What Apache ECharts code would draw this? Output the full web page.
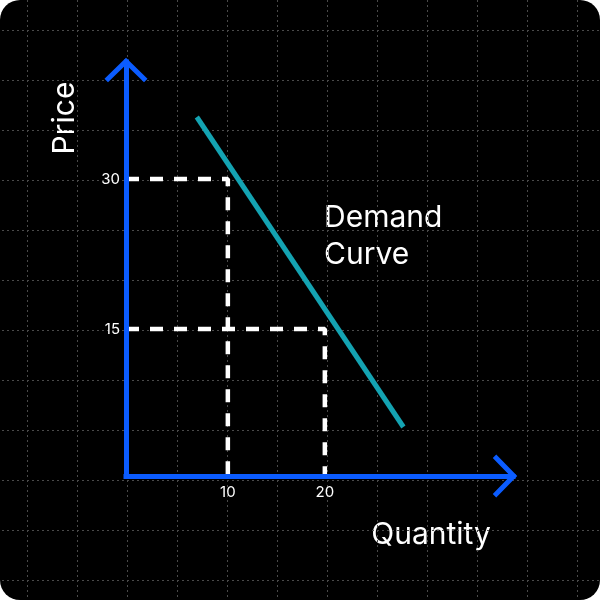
<!DOCTYPE html>
<html>
<head>
<meta charset="utf-8">
<script src="https://cdn.jsdelivr.net/npm/echarts@6/dist/echarts.min.js"></script>
<style>
  html, body { margin: 0; padding: 0; background: #ffffff; }
  #chart { width: 600px; height: 600px; background: #000000; border-radius: 20px; overflow: hidden; }
</style>
</head>
<body>
<div id="chart"></div>
<script>
// ---- data ----
const quantityTicks = [10, 20];
const priceTicks = [15, 30];
const quantityLevels = [10, 20];   // guide quantities
const priceLevels = [30, 15];      // guide prices (matching quantityLevels)
const demandQuantity = [6.8, 28.1];
const demandPrice = [36.2, 5.2];
const xRange = [-0.5, 39.4];
const yRange = [0.3, 41.7];
const labels = { x: 'Quantity', y: 'Price', curve: 'Demand\nCurve' };

const AXIS_BLUE = '#0b5cff';
const TEAL = '#14a3b2';
const FONT = 'Inter, "Noto Sans", sans-serif';
const chevron = 'path://M21.5 0 L43 21 L39.5 24.5 L21.5 7 L3.5 24.5 L0 21 Z';

const demandData = demandQuantity.map((q, i) => [q, demandPrice[i]]);
const guideSeries = quantityLevels.map((q, i) => ({
  type: 'line',
  xAxisIndex: 0, yAxisIndex: 0,
  data: [[xRange[0], priceLevels[i]], [q, priceLevels[i]], [q, yRange[0]]],
  symbol: 'none',
  silent: true,
  z: 1,
  lineStyle: { color: '#ffffff', width: 4.5, type: [13, 11] }
}));

const chart = echarts.init(document.getElementById('chart'), null, { renderer: 'canvas' });
chart.setOption({
  backgroundColor: 'transparent',
  animation: false,
  grid: [
    { left: 126, top: 62, width: 387, height: 414, outerBoundsMode: 'none', containLabel: false },
    { left: -23, top: -20, width: 650, height: 650, outerBoundsMode: 'none', containLabel: false }
  ],
  xAxis: [
    {
      type: 'value', gridIndex: 0, min: xRange[0], max: xRange[1], z: 5,
      axisLine: {
        show: true, onZero: false,
        symbol: ['none', chevron], symbolSize: [43, 24.5], symbolOffset: [0, -8],
        lineStyle: { color: AXIS_BLUE, width: 5, cap: 'square' }
      },
      axisTick: { show: false },
      splitLine: { show: false },
      axisLabel: { customValues: quantityTicks, color: '#ffffff', fontSize: 15, fontFamily: FONT, margin: 9 }
    },
    {
      type: 'value', gridIndex: 1, min: 0, max: 13, interval: 1,
      axisLine: { show: false }, axisTick: { show: false }, axisLabel: { show: false },
      splitLine: { show: true, lineStyle: { color: '#4a4a4a', width: 1, type: [2, 3] } }
    }
  ],
  yAxis: [
    {
      type: 'value', gridIndex: 0, min: yRange[0], max: yRange[1], z: 5,
      axisLine: {
        show: true, onZero: false,
        symbol: ['none', chevron], symbolSize: [43, 24.5], symbolOffset: [0, -8],
        lineStyle: { color: AXIS_BLUE, width: 5, cap: 'square' }
      },
      axisTick: { show: false },
      splitLine: { show: false },
      axisLabel: { customValues: priceTicks, color: '#ffffff', fontSize: 15, fontFamily: FONT, margin: 6 }
    },
    {
      type: 'value', gridIndex: 1, min: 0, max: 13, interval: 1,
      axisLine: { show: false }, axisTick: { show: false }, axisLabel: { show: false },
      splitLine: { show: true, lineStyle: { color: '#4a4a4a', width: 1, type: [2, 3] } }
    }
  ],
  series: [
    ...guideSeries,
    {
      type: 'line',
      xAxisIndex: 0, yAxisIndex: 0,
      data: demandData,
      symbol: 'none',
      silent: true,
      z: 3,
      lineStyle: { color: TEAL, width: 5, cap: 'butt' }
    }
  ],
  graphic: [
    {
      type: 'text', x: 65, y: 118, rotation: Math.PI / 2,
      style: { text: labels.y, fill: '#ffffff', font: '30px ' + FONT, textAlign: 'center', textVerticalAlign: 'middle' }
    },
    {
      type: 'text', x: 431, y: 535,
      style: { text: labels.x, fill: '#ffffff', font: '30px ' + FONT, textAlign: 'center', textVerticalAlign: 'middle' }
    },
    {
      type: 'text', x: 324, y: 199,
      style: { text: labels.curve, fill: '#ffffff', font: '30px ' + FONT, lineHeight: 37, textAlign: 'left', textVerticalAlign: 'top' }
    }
  ]
});
</script>
</body>
</html>
